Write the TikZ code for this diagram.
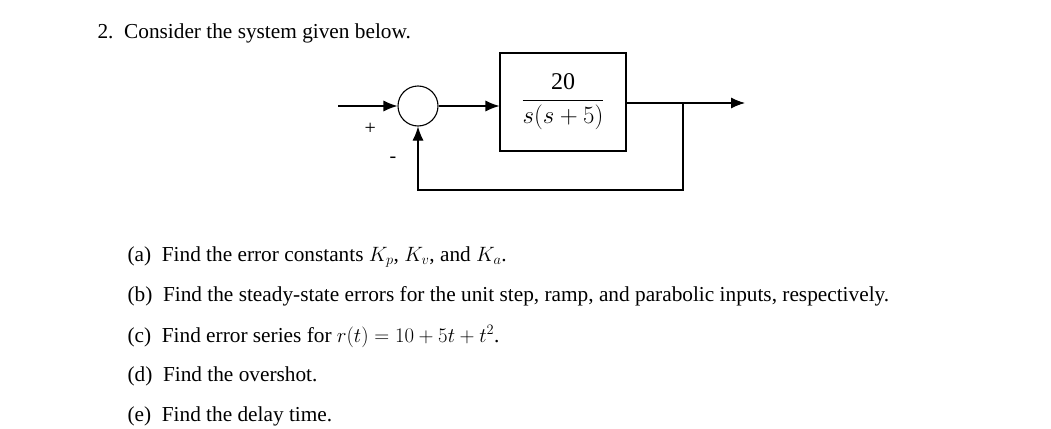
\documentclass[tikz,border=0pt]{standalone}
\usepackage{fontspec}
\setmainfont{Liberation Serif}
\usetikzlibrary{arrows.meta}
\begin{document}
\begin{tikzpicture}[x=1pt,y=-1pt,line width=1.1pt,
  txt/.style={anchor=base west,inner sep=0pt,font=\fontsize{21.3}{25}\selectfont},
  arr/.style={-{Latex[length=14pt,width=11pt]}}]
\useasboundingbox (0,0) rectangle (1051,428);
\node[txt] (t0) at (97,39) {2.\ \ Consider the system given below.};
\node[draw,circle,minimum size=40pt,inner sep=0pt] (sum) at (418,106) {};
\node[draw,minimum width=126pt,minimum height=98pt,inner sep=0pt] (G) at (563,102)
  {\fontsize{24}{28}\selectfont$\displaystyle\frac{\mathrm{20}}{s(s+5)}$};
\coordinate (in) at (338,106);
\coordinate (br) at (683,103);
\coordinate (out) at (745,103);
\coordinate (bot1) at (683,190);
\coordinate (bot2) at (418,190);
\draw[arr] (in) -- (sum.west);
\draw[arr] (sum.east) -- (sum.east -| G.west);
\draw (G.east |- br) -- (br);
\draw[arr] (br) -- (out);
\draw[arr] (br) -- (bot1) -- (bot2) -- (sum.south);
\node[txt,font=\fontsize{20}{22}\selectfont] (plus) at (364,134) {+};
\node[txt,font=\fontsize{20}{22}\selectfont] (minus) at (389,162) {-};
\node[txt] (a) at (127,261) {(a)\ \ Find the error constants $K_p$, $K_v$, and $K_a$.};
\node[txt] (b) at (127,301) {(b)\ \ Find the steady-state errors for the unit step, ramp, and parabolic inputs, respectively.};
\node[txt] (c) at (127,342) {(c)\ \ Find error series for $r(t)=10+5t+t^2$.};
\node[txt] (d) at (127,381) {(d)\ \ Find the overshot.};
\node[txt] (e) at (127,421) {(e)\ \ Find the delay time.};
\end{tikzpicture}
\end{document}
